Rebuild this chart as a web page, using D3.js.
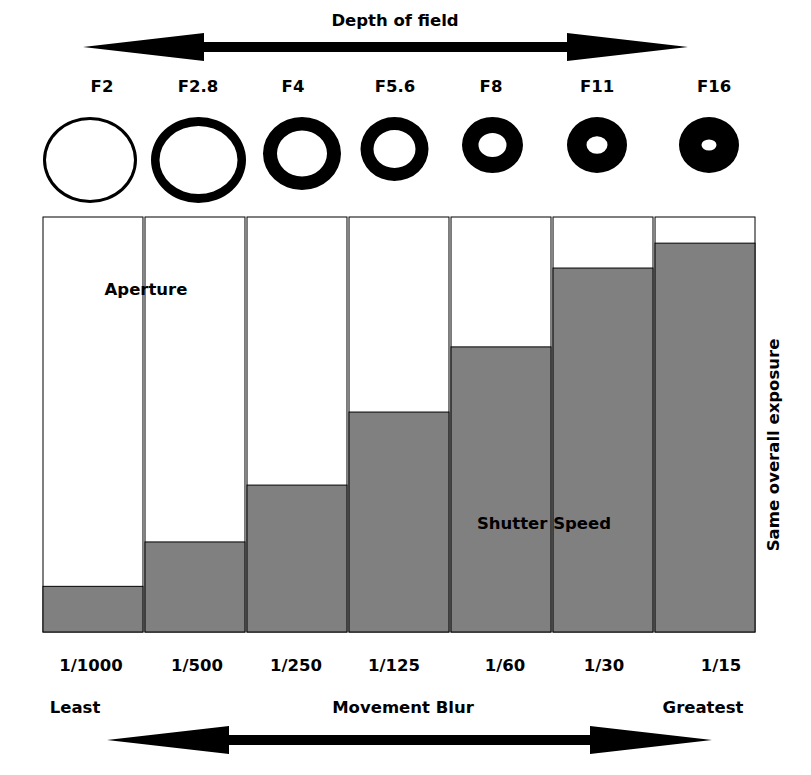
<!DOCTYPE html><html><head><meta charset="utf-8"><script src="https://cdn.jsdelivr.net/npm/d3@7"></script>
<style>body{margin:0;background:#fff}text{font-family:"DejaVu Sans",Verdana,sans-serif;font-weight:bold;font-size:16.5px;fill:#000}</style></head><body>
<script>
const fStops=["F2","F2.8","F4","F5.6","F8","F11","F16"];
const shutter=["1/1000","1/500","1/250","1/125","1/60","1/30","1/15"];
const shutterShare=[0.11,0.217,0.354,0.53,0.687,0.877,0.937];
// ring geometry (outer rx, ry, inner rx, ry) in px
const outerRx=[47,47.5,39,34,30.5,30,30];
const outerRy=[43,43,36.5,32,28,28,28];
const innerRx=[44,39,25,21,14,10.5,7.5];
const innerRy=[40,34,23,19,12,8.7,5.5];
const ringCx=[90,198.5,302,394.5,492.5,597,709];
const ringCy=[160,160,153.5,149,145,145,145];
const fLabelX=[102,198,293,395,491,597,714];
const sLabelX=[91,197,296,394,505,604,721];

const svg=d3.select("body").append("svg").attr("width",811).attr("height",775);
const x=d3.scaleBand().domain(shutter).range([43,755]).paddingInner(0.02);
const y=d3.scaleLinear().domain([0,1]).range([632,217]);

const g=svg.append("g");
g.selectAll("rect.w").data(shutter).join("rect").attr("x",d=>x(d)).attr("width",x.bandwidth())
 .attr("y",y(1)).attr("height",y(0)-y(1)).attr("fill","#fff").attr("stroke","#000").attr("stroke-width",1);
g.selectAll("rect.g").data(shutterShare).join("rect").attr("x",(d,i)=>x(shutter[i])).attr("width",x.bandwidth())
 .attr("y",d=>y(d)).attr("height",d=>y(0)-y(d)).attr("fill","#808080").attr("stroke","#000").attr("stroke-width",1);

function ell(cx,cy,rx,ry){return `M${cx-rx},${cy}a${rx},${ry} 0 1,0 ${2*rx},0a${rx},${ry} 0 1,0 ${-2*rx},0Z`;}
svg.selectAll("path.ring").data(fStops).join("path").attr("fill-rule","evenodd").attr("fill","#000")
 .attr("d",(d,i)=>ell(ringCx[i],ringCy[i],outerRx[i],outerRy[i])+ell(ringCx[i],ringCy[i],innerRx[i],innerRy[i]));

svg.selectAll("text.f").data(fStops).join("text").attr("x",(d,i)=>fLabelX[i]).attr("y",92).attr("text-anchor","middle").text(d=>d);
svg.selectAll("text.s").data(shutter).join("text").attr("x",(d,i)=>sLabelX[i]).attr("y",671).attr("text-anchor","middle").text(d=>d);

function arrow(x1,x2,cy,head){
  return `M${x1},${cy}L${x1+head},${cy-14}L${x1+head},${cy-5}L${x2-head},${cy-5}L${x2-head},${cy-14}L${x2},${cy}L${x2-head},${cy+14}L${x2-head},${cy+5}L${x1+head},${cy+5}L${x1+head},${cy+14}Z`;
}
svg.append("path").attr("d",arrow(83,688,47,121)).attr("fill","#000");
svg.append("path").attr("d",arrow(107,712,740,122)).attr("fill","#000");

const t=(s,x0,y0,a="middle")=>svg.append("text").attr("x",x0).attr("y",y0).attr("text-anchor",a).text(s);
t("Depth of field",395,26);
t("Aperture",146,295);
t("Shutter Speed",544,529);
t("Least",75,713);
t("Movement Blur",403,713);
t("Greatest",703,713);
svg.append("text").attr("transform","translate(779,445) rotate(-90)").attr("text-anchor","middle").text("Same overall exposure");
</script></body></html>
